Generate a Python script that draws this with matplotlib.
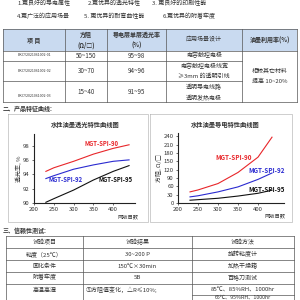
import numpy as np
import matplotlib

matplotlib.use("Agg")
import matplotlib.pyplot as plt

plt.rcParams["font.family"] = ["Noto Sans CJK SC", "DejaVu Sans"]

# feature list at the top of the page
features_1 = ["1.更良好的导电属性", "2.更优异的透光特性", "3. 更良好的印刷性能"]
features_2 = ["4.更广泛的应用场景", "5. 更优异的耐弯曲性能", "6.更优异的附着牢度"]

# product table
codes = ["BKCY2021061002-01", "BKCY2021061002-02", "BKCY2021061002-03"]
sheet_res = ["50~150", "30~70", "15~40"]
transmit = ["95~98", "94~96", "91~95"]
usage = [["电容触控电极"], ["电容触控电极线宽", "≥3mm 的透明引线"], ["透明导电线路", "透明发热电极"]]
ink_gain = ["相较其它材料", "提高 10~20%"]

# curves: mesh count vs transmittance / sheet resistance
mesh = [230, 250, 300, 350, 400, 440]
trans_90 = [94.4, 94.9, 95.8, 96.8, 97.6, 98.1]
trans_92 = [93.4, 93.8, 94.7, 95.3, 95.8, 96.0]
trans_95 = [90.1, 90.6, 91.8, 93.2, 94.4, 95.2]
res_mesh = [230, 250, 300, 350, 400, 435]
res_90 = [40, 47, 70, 110, 165, 237]
res_92 = [22, 26, 40, 58, 85, 108]
res_95 = [10, 12, 17, 25, 35, 46]

# reliability table
rel_items = ["粘度（25℃）", "固化条件", "附着牢度", "高温高湿"]
rel_results = ["30~200 P", "150℃×30min", "5B", "①方阻值变化，△R≤10%;"]
rel_methods = ["旋转粘度计", "加热干燥箱", "百格刀测试", "85℃、85%RH、1000hr"]
rel_method_extra = "65℃、95%RH、1000hr"

txt = "#333333"
line = "#555555"

fig = plt.figure(figsize=(3, 3), dpi=100)
bg = fig.add_axes([0, 0, 1, 1])
bg.set_xlim(0, 300)
bg.set_ylim(300, 0)
bg.axis("off")

for x, s in zip([17, 88, 152], features_1):
    bg.text(x, 3, s, fontsize=4.3, color=txt, va="center")
for x, s in zip([17, 84, 163], features_2):
    bg.text(x, 16, s, fontsize=4.3, color=txt, va="center")

# ---- table 1
cols = [3, 65, 107, 166, 242, 297]
rows = [29, 50.5, 60.5, 81, 102]
bg.fill_between([cols[0], cols[-1]], rows[0], rows[1], color="#c9daf0", lw=0)
for y in rows:
    x_end = cols[4] if y in (rows[2], rows[3]) else cols[-1]
    bg.plot([cols[0], x_end], [y, y], color=line, lw=0.5)
for x in cols:
    bg.plot([x, x], [rows[0], rows[-1]], color=line, lw=0.5)
cx = [(a + b) / 2 for a, b in zip(cols[:-1], cols[1:])]
bg.text(cx[0], 40, "项 目", fontsize=4.3, weight="bold", ha="center", va="center", color=txt)
bg.text(cx[1], 35, "方阻", fontsize=4.3, weight="bold", ha="center", va="center", color=txt)
bg.text(cx[1], 45, "(Ω/□)", fontsize=4.3, weight="bold", ha="center", va="center", color=txt)
bg.text(cx[2], 34, "导电层单层透光率", fontsize=4.3, weight="bold", ha="center", va="center", color=txt)
bg.text(cx[2], 45, "(%)", fontsize=4.3, weight="bold", ha="center", va="center", color=txt)
bg.text(cx[3], 40, "应用场景设计", fontsize=4.3, ha="center", va="center", color=txt)
bg.text(cx[4], 40, "油墨利用率(%)", fontsize=4.3, weight="bold", ha="center", va="center", color=txt)
row_mid = [55.5, 71, 92]
for i in range(3):
    bg.text(cx[0], row_mid[i] + (4 if i == 2 else 0), codes[i], fontsize=2.6, ha="center", va="center", color=txt)
    bg.text(cx[1], row_mid[i], sheet_res[i], fontsize=4.5, ha="center", va="center", color=txt)
    bg.text(cx[2], row_mid[i], transmit[i], fontsize=4.5, ha="center", va="center", color=txt)
    n = len(usage[i])
    for j, s in enumerate(usage[i]):
        bg.text(cx[3], row_mid[i] + (j - (n - 1) / 2) * 10.5, s, fontsize=4.3, ha="center", va="center", color=txt)
bg.text(cx[4], 71, ink_gain[0], fontsize=4.3, ha="center", va="center", color=txt)
bg.text(cx[4], 81, ink_gain[1], fontsize=4.3, ha="center", va="center", color=txt)

# ---- section 2
bg.text(3, 109, "二、产品特征曲线:", fontsize=4.3, weight="bold", va="center", color=txt)
for x0, x1 in [(8, 148), (150, 292)]:
    bg.plot([x0, x1, x1, x0, x0], [114, 114, 222, 222, 114], color="#bbbbbb", lw=0.5)
bg.text(85, 124, "水性油墨透光特性曲线图", fontsize=4.5, weight="bold", ha="center", va="center", color=txt)
bg.text(225, 124, "水性油墨导电特性曲线图", fontsize=4.5, weight="bold", ha="center", va="center", color=txt)
bg.text(128, 217, "网版目数", fontsize=3.8, ha="center", va="center", color=txt)
bg.text(275, 216, "网版目数", fontsize=3.8, ha="center", va="center", color=txt)


def style_axes(ax):
    for side in ["top", "right"]:
        ax.spines[side].set_visible(False)
    for side in ["left", "bottom"]:
        ax.spines[side].set_linewidth(0.8)
        ax.spines[side].set_color("#222222")
    ax.tick_params(labelsize=4.3, length=1.5, width=0.5, pad=1.5, colors="#333333")
    ax.patch.set_alpha(0)


ax1 = fig.add_axes([34 / 300, 1 - 203 / 300, 101 / 300, 69 / 300])
ax1.plot(mesh, trans_90, color="#e8262a", lw=0.8)
ax1.plot(mesh, trans_92, color="#2a2ad0", lw=0.8)
ax1.plot(mesh, trans_95, color="#111111", lw=0.8)
ax1.set_xlim(200, 455)
ax1.set_ylim(90, 99.6)
ax1.set_xticks([200, 250, 300, 350, 400])
ax1.set_yticks([90, 92, 94, 96, 98])
style_axes(ax1)
ax1.text(0.5, 0.83, "MGT-SPI-90", transform=ax1.transAxes, color="#e8262a", fontsize=4.3, weight="bold")
ax1.text(0.14, 0.3, "MGT-SPI-92", transform=ax1.transAxes, color="#2a2ad0", fontsize=4.3, weight="bold")
ax1.text(0.64, 0.3, "MGT-SPI-95", transform=ax1.transAxes, color="#111111", fontsize=4.3, weight="bold")
ax1.set_ylabel("透光率, %", fontsize=4.3, labelpad=1, color=txt)

ax2 = fig.add_axes([178 / 300, 1 - 203 / 300, 106 / 300, 70 / 300])
ax2.plot(res_mesh, res_90, color="#e8262a", lw=0.8)
ax2.plot(res_mesh, res_92, color="#2a2ad0", lw=0.8)
ax2.plot(res_mesh, res_95, color="#111111", lw=0.8)
ax2.set_xlim(200, 465)
ax2.set_ylim(0, 252)
ax2.set_xticks([200, 250, 300, 350, 400])
ax2.set_yticks([0, 30, 60, 90, 120, 150, 180, 210, 240])
style_axes(ax2)
ax2.text(0.35, 0.62, "MGT-SPI-90", transform=ax2.transAxes, color="#e8262a", fontsize=4.5, weight="bold")
ax2.text(0.66, 0.43, "MGT-SPI-92", transform=ax2.transAxes, color="#2a2ad0", fontsize=4.5, weight="bold")
ax2.text(0.66, 0.16, "MGT-SPI-95", transform=ax2.transAxes, color="#111111", fontsize=4.5, weight="bold")
ax2.set_ylabel("方阻, Ω/□", fontsize=4.3, labelpad=1, color=txt)

# ---- section 3
bg.text(3, 230, "三、信赖性测试:", fontsize=4.3, weight="bold", va="center", color=txt)
cols3 = [6, 83, 192, 294]
rows3 = [236, 248, 260, 272, 283.5, 301]
for y in rows3:
    bg.plot([cols3[0], cols3[-1]], [y, y], color=line, lw=0.5)
bg.plot([cols3[2], cols3[3]], [295, 295], color=line, lw=0.5)
for x in cols3:
    bg.plot([x, x], [rows3[0], rows3[-1]], color=line, lw=0.5)
cx3 = [(a + b) / 2 for a, b in zip(cols3[:-1], cols3[1:])]
for x, s in zip(cx3, ["试验项目", "试验结果", "试验方法"]):
    bg.text(x, 242, s, fontsize=4.3, ha="center", va="center", color=txt)
mids3 = [254, 266, 277.5, 290]
for i in range(4):
    bg.text(cx3[0], mids3[i], rel_items[i], fontsize=4.3, ha="center", va="center", color=txt)
    if i < 3:
        bg.text(cx3[1], mids3[i], rel_results[i], fontsize=4.3, ha="center", va="center", color=txt)
        bg.text(cx3[2], mids3[i], rel_methods[i], fontsize=4.3, ha="center", va="center", color=txt)
    else:
        bg.text(cols3[1] + 3, mids3[i], rel_results[i], fontsize=4.3, va="center", color=txt)
        bg.text(cx3[2], 289, rel_methods[i], fontsize=4.3, ha="center", va="center", color=txt)
        bg.text(cx3[2], 297.5, rel_method_extra, fontsize=3.8, ha="center", va="center", color=txt)

fig.savefig("out.png", dpi=100, facecolor="white")
